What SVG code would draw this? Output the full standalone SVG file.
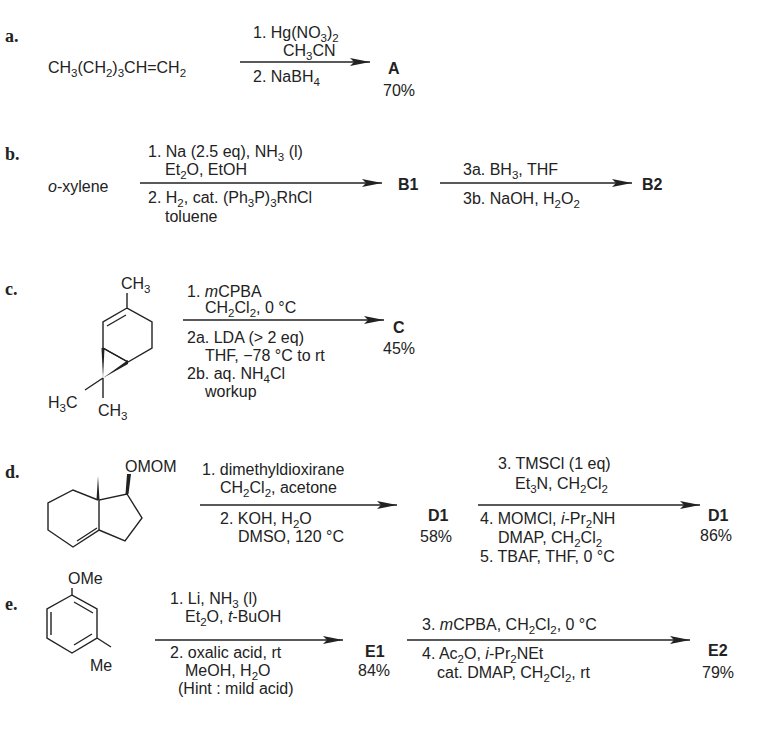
<svg xmlns="http://www.w3.org/2000/svg" width="778" height="749" viewBox="0 0 778 749">
<style>
text{font-family:"Liberation Sans",Arial,sans-serif;font-size:16px;fill:#222}
.l{font-family:"Liberation Serif",serif;font-weight:bold;font-size:18px}
.b{font-weight:bold}
.s{font-size:11.5px;baseline-shift:-4px}
.ln{stroke:#222;stroke-width:1.4;fill:none}
.ar{stroke:#222;stroke-width:1.3;fill:none;marker-end:url(#ah)}
</style>
<defs><marker id="ah" viewBox="0 0 20 8" refX="20" refY="4" markerWidth="20" markerHeight="8" markerUnits="userSpaceOnUse" orient="auto"><path d="M0,0L20,4L0,8L4,4Z" fill="#222"/></marker></defs>
<rect width="778" height="749" fill="#fff"/>
<g id="connectors">
<line class="ar" x1="240" y1="62" x2="370" y2="62"/>
<line class="ar" x1="140" y1="183" x2="382" y2="183"/>
<line class="ar" x1="440" y1="183" x2="632" y2="183"/>
<line class="ar" x1="183" y1="320" x2="384" y2="320"/>
<line class="ar" x1="200" y1="505" x2="397" y2="505"/>
<line class="ar" x1="478" y1="505" x2="700" y2="505"/>
<line class="ar" x1="155" y1="640" x2="343" y2="640"/>
<line class="ar" x1="407" y1="640" x2="690" y2="640"/>
</g>
<g id="a">
<text class="l" x="5" y="42">a.</text>
<text x="48" y="73">CH<tspan class="s">3</tspan>(CH<tspan class="s">2</tspan>)<tspan class="s">3</tspan>CH=CH<tspan class="s">2</tspan></text>
<text x="253" y="38">1. Hg(NO<tspan class="s">3</tspan>)<tspan class="s">2</tspan></text>
<text x="283" y="56">CH<tspan class="s">3</tspan>CN</text>
<text x="253" y="82">2. NaBH<tspan class="s">4</tspan></text>
<text class="b" x="388" y="74">A</text>
<text x="383" y="96">70%</text>
</g>
<g id="b">
<text class="l" x="5" y="160">b.</text>
<text x="48" y="192"><tspan font-style="italic">o</tspan>-xylene</text>
<text x="148" y="157">1. Na (2.5 eq), NH<tspan class="s">3</tspan> (l)</text>
<text x="165" y="175">Et<tspan class="s">2</tspan>O, EtOH</text>
<text x="148" y="203">2. H<tspan class="s">2</tspan>, cat. (Ph<tspan class="s">3</tspan>P)<tspan class="s">3</tspan>RhCl</text>
<text x="165" y="222">toluene</text>
<text class="b" x="398" y="190">B1</text>
<text x="463" y="175">3a. BH<tspan class="s">3</tspan>, THF</text>
<text x="463" y="204">3b. NaOH, H<tspan class="s">2</tspan>O<tspan class="s">2</tspan></text>
<text class="b" x="642" y="190">B2</text>
</g>
<g id="c">
<text class="l" x="5" y="295">c.</text>
<text x="121" y="289">CH<tspan class="s">3</tspan></text>
<path class="ln" d="M127,293V308L152,322V348L128,362L103,348V322L127,308M107,326L126,315M103,378L85,390M103,378V398"/>
<path d="M101.5,348L104.5,348L103,378Z" fill="#222"/>
<path d="M128,360L128,364L103,378Z" fill="#222"/>
<line class="ln" x1="103" y1="348" x2="128" y2="362"/>
<text x="48" y="408">H<tspan class="s">3</tspan>C</text>
<text x="98" y="416">CH<tspan class="s">3</tspan></text>
<text x="187" y="297">1. <tspan font-style="italic">m</tspan>CPBA</text>
<text x="205" y="313">CH<tspan class="s">2</tspan>Cl<tspan class="s">2</tspan>, 0 °C</text>
<text x="187" y="343">2a. LDA (&gt; 2 eq)</text>
<text x="205" y="361">THF, −78 °C to rt</text>
<text x="187" y="379">2b. aq. NH<tspan class="s">4</tspan>Cl</text>
<text x="205" y="397">workup</text>
<text class="b" x="393" y="333">C</text>
<text x="383" y="354">45%</text>
</g>
<g id="d">
<text class="l" x="5" y="478">d.</text>
<path class="ln" d="M98,500L73,490L48,503V530L73,547L99,530V500L127,494L142,518L125,541L99,530M77,541L97,528"/>
<path d="M96.5,500L99.5,500L98,476Z" fill="#222"/>
<path d="M125.5,494L128.5,494L131,474L127,474Z" fill="#222"/>
<text x="125" y="472">OMOM</text>
<text x="202" y="475">1. dimethyldioxirane</text>
<text x="220" y="493">CH<tspan class="s">2</tspan>Cl<tspan class="s">2</tspan>, acetone</text>
<text x="220" y="524">2. KOH, H<tspan class="s">2</tspan>O</text>
<text x="238" y="542">DMSO, 120 °C</text>
<text class="b" x="428" y="521">D1</text>
<text x="420" y="542">58%</text>
<text x="498" y="469">3. TMSCl (1 eq)</text>
<text x="515" y="489">Et<tspan class="s">3</tspan>N, CH<tspan class="s">2</tspan>Cl<tspan class="s">2</tspan></text>
<text x="480" y="524">4. MOMCl, <tspan font-style="italic">i</tspan>-Pr<tspan class="s">2</tspan>NH</text>
<text x="498" y="543">DMAP, CH<tspan class="s">2</tspan>Cl<tspan class="s">2</tspan></text>
<text x="480" y="562">5. TBAF, THF, 0 °C</text>
<text class="b" x="708" y="521">D1</text>
<text x="700" y="541">86%</text>
</g>
<g id="e">
<text class="l" x="5" y="610">e.</text>
<text x="68" y="584">OMe</text>
<path class="ln" d="M72,588V595L97,609V638L72,653L47,638V609L72,595M97,638L111,647M51,612V635M93,613L74,602M92,634L74,645"/>
<text x="90" y="671">Me</text>
<text x="170" y="604">1. Li, NH<tspan class="s">3</tspan> (l)</text>
<text x="185" y="622">Et<tspan class="s">2</tspan>O, <tspan font-style="italic">t</tspan>-BuOH</text>
<text x="170" y="658">2. oxalic acid, rt</text>
<text x="185" y="676">MeOH, H<tspan class="s">2</tspan>O</text>
<text x="178" y="694">(Hint : mild acid)</text>
<text class="b" x="365" y="657">E1</text>
<text x="358" y="676">84%</text>
<text x="422" y="630">3. <tspan font-style="italic">m</tspan>CPBA, CH<tspan class="s">2</tspan>Cl<tspan class="s">2</tspan>, 0 °C</text>
<text x="422" y="659">4. Ac<tspan class="s">2</tspan>O, <tspan font-style="italic">i</tspan>-Pr<tspan class="s">2</tspan>NEt</text>
<text x="437" y="678">cat. DMAP, CH<tspan class="s">2</tspan>Cl<tspan class="s">2</tspan>, rt</text>
<text class="b" x="708" y="656">E2</text>
<text x="702" y="678">79%</text>
</g>
</svg>
